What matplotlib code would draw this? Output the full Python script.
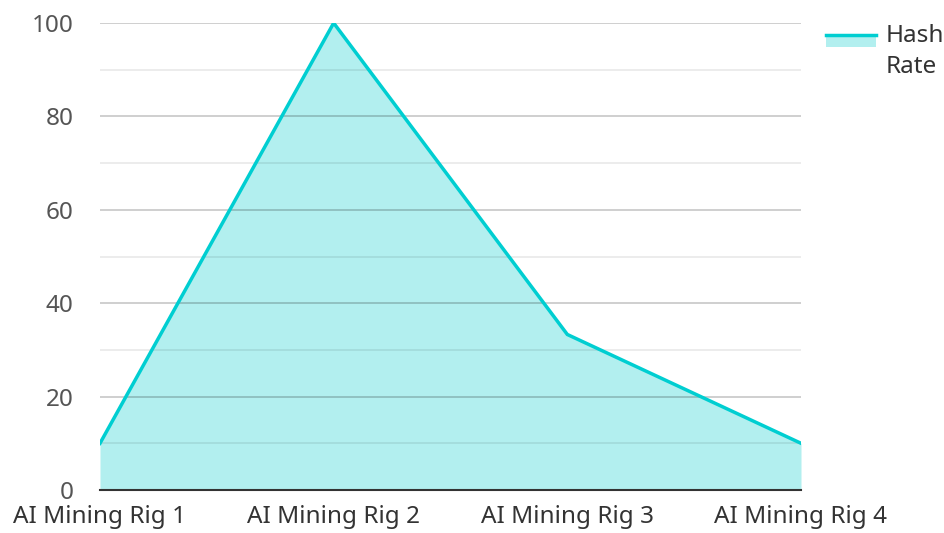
import matplotlib.pyplot as plt
from matplotlib.patches import Rectangle
from matplotlib.lines import Line2D

plt.rcParams['font.family'] = ['Noto Sans', 'DejaVu Sans']

rigs = ["AI Mining Rig 1", "AI Mining Rig 2", "AI Mining Rig 3", "AI Mining Rig 4"]
hash_rate = [10, 100, 33.3, 10]
y_ticks = [0, 20, 40, 60, 80, 100]

line_color = "#00CED1"
fill_color = "#B2EFEF"

fig = plt.figure(figsize=(9.45, 5.33), dpi=100)
ax = fig.add_axes([100 / 945, 1 - 490 / 533, 701 / 945, 467 / 533])

x = list(range(len(rigs)))
ax.fill_between(x, hash_rate, 0, color=fill_color, linewidth=0, zorder=1)
ax.plot(x, hash_rate, color=line_color, linewidth=2.5, zorder=3, solid_joinstyle="miter")

ax.set_xlim(0, len(rigs) - 1)
ax.set_ylim(0, 100)
ax.set_xticks(x)
ax.set_xticklabels(rigs, fontsize=17.5, color="#333333")
ax.set_yticks(y_ticks)
ax.set_yticklabels([str(v) for v in y_ticks], fontsize=17.5, color="#555555")
ax.set_yticks(range(10, 100, 20), minor=True)
ax.tick_params(axis="both", which="both", length=0)
ax.tick_params(axis="y", pad=19)
ax.tick_params(axis="x", pad=11)

ax.grid(axis="y", which="major", color="black", alpha=0.22, linewidth=1.2, zorder=2)
ax.grid(axis="y", which="minor", color="black", alpha=0.09, linewidth=1.2, zorder=2)
ax.set_axisbelow(False)
for side in ["top", "right", "left"]:
    ax.spines[side].set_visible(False)
ax.spines["bottom"].set_color("#333333")
ax.spines["bottom"].set_linewidth(1.5)
ax.spines["bottom"].set_zorder(4)

# legend
fig.patches.append(Rectangle((826 / 945, 1 - 47 / 533), 50 / 945, 12 / 533,
                             transform=fig.transFigure, facecolor=fill_color, edgecolor="none"))
fig.lines.append(Line2D([826 / 945, 876 / 945], [1 - 35 / 533, 1 - 35 / 533],
                        transform=fig.transFigure, color=line_color, linewidth=2.5))
fig.text(886 / 945, 1 - 36 / 533, "Hash", fontsize=17.5, color="#333333", va="center")
fig.text(886 / 945, 1 - 67 / 533, "Rate", fontsize=17.5, color="#333333", va="center")

fig.savefig("out.png", dpi=100)
